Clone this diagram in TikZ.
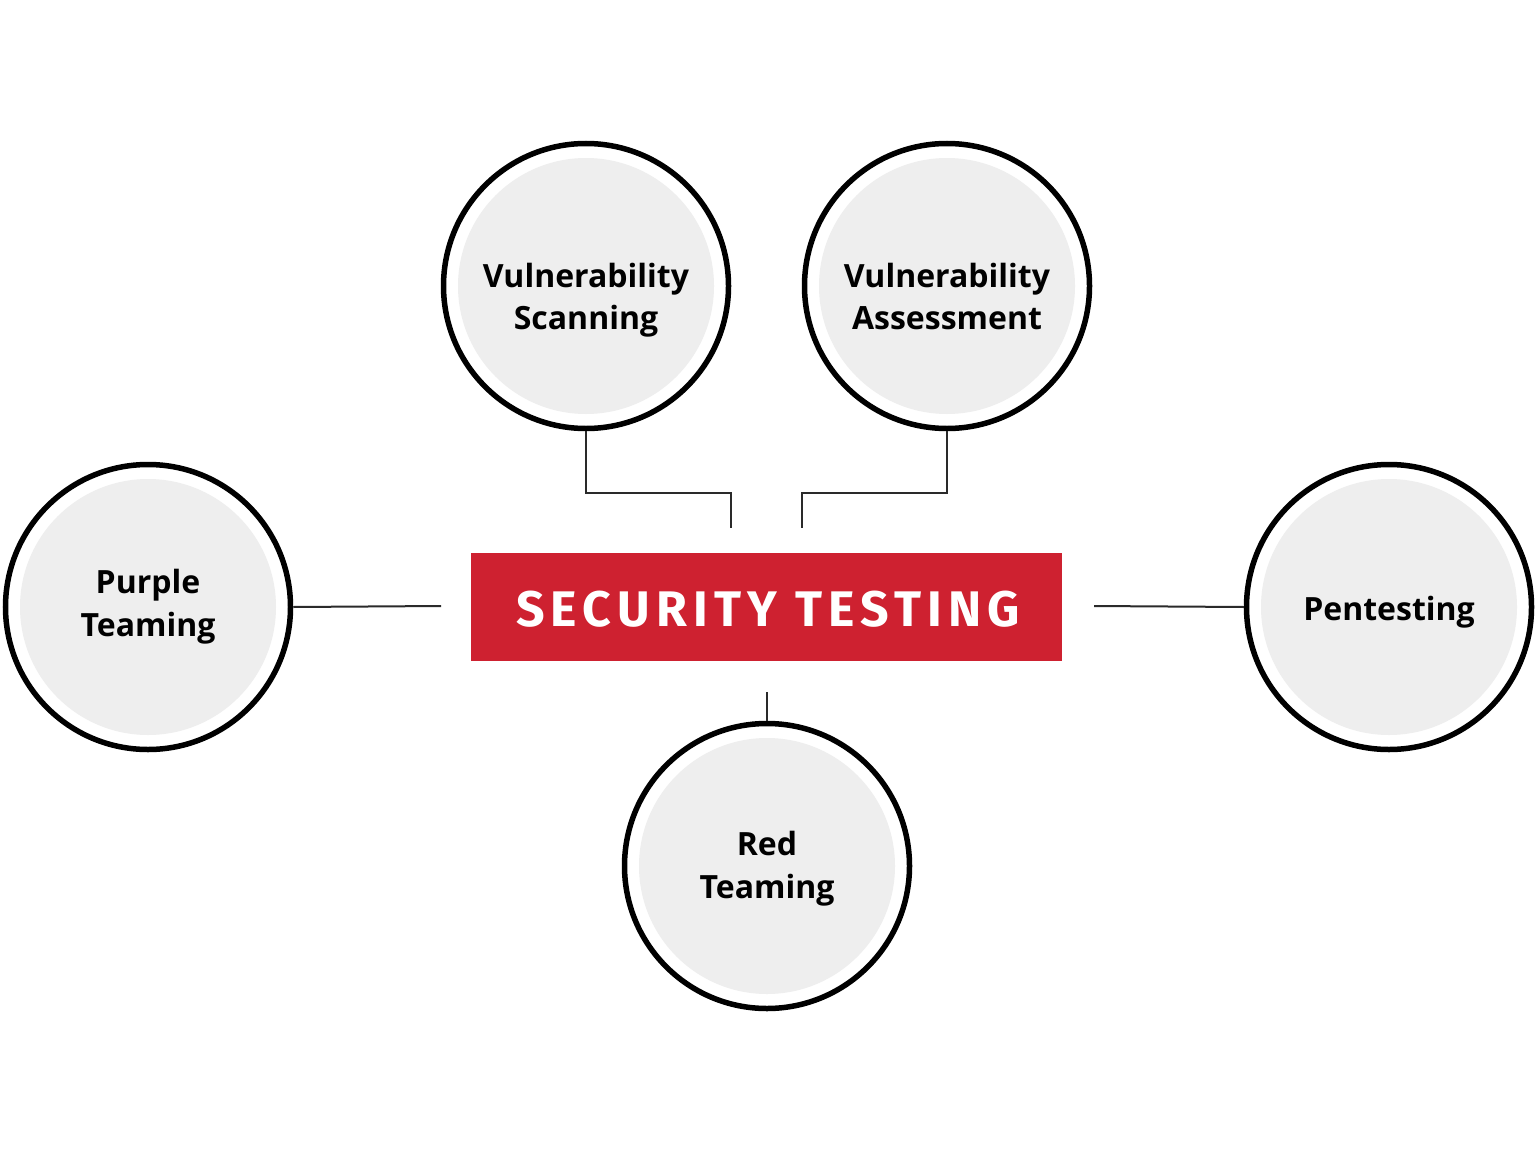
\documentclass[tikz,border=0pt]{standalone}
\usepackage{fontspec}
\setmainfont{Open Sans}
\newfontfamily\labelfont{Open Sans}
\newfontfamily\titlefont[LetterSpace=12.5]{Fira Sans}
\definecolor{ringgrey}{HTML}{EEEEEE}
\definecolor{boxred}{HTML}{CE2130}
\definecolor{linegrey}{HTML}{2A2A2A}
\tikzset{
  topic/.style={circle, draw=black, line width=5.5pt, fill=white, minimum size=285pt, inner sep=0pt},
  inner/.style={circle, fill=ringgrey, minimum size=256pt, inner sep=0pt},
  topiclabel/.style={align=center, anchor=base, inner sep=0pt, font=\labelfont\bfseries\fontsize{32}{42.5}\selectfont},
  conn/.style={draw=linegrey, line width=2pt},
  titlebox/.style={fill=boxred, minimum width=591pt, minimum height=108pt, inner sep=0pt},
}
\begin{document}
\begin{tikzpicture}[x=1pt,y=-1pt]
\useasboundingbox[fill=white] (0,0) rectangle (1536,1153);
% title
\node[titlebox] (title) at (766.5,607) {};
\node[text=white, anchor=base, inner sep=0pt, font=\titlefont\bfseries\fontsize{50}{60}\selectfont] (titletext) at (768,626) {SECURITY TESTING};
% circles
\foreach \n/\x/\y in {scan/586/286, assess/947/286, purple/148/607, pent/1389/607, red/767/866}{
  \node[topic] (\n) at (\x,\y) {};
  \node[inner] (\n-in) at (\x,\y) {};
}
\node[topiclabel] (scan-t) at (586,329.5) {Vulnerability\\Scanning};
\node[topiclabel] (assess-t) at (947,329.5) {Vulnerability\\Assessment};
\node[topiclabel] (purple-t) at (148,636) {Purple\\Teaming};
\node[topiclabel] (pent-t) at (1389,620) {Pentesting};
\node[topiclabel] (red-t) at (767,898) {Red\\Teaming};
% connector ends
\coordinate (scanend) at (731,528);
\coordinate (assessend) at (802,528);
\coordinate (purpleend) at (441,606);
\coordinate (pentend) at (1094,606);
\coordinate (redend) at (767,692);
\draw[conn] (scan.south) |- (731,493) -- (scanend);
\draw[conn] (assess.south) |- (802,493) -- (assessend);
\draw[conn] (purple.east) -- (purpleend);
\draw[conn] (pent.west) -- (pentend);
\draw[conn] (red.north) -- (redend);
\end{tikzpicture}
\end{document}
